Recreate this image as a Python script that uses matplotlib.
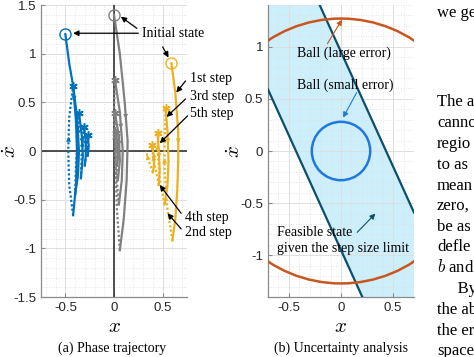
import numpy as np
import matplotlib.pyplot as plt
from matplotlib.patches import Circle
from matplotlib.ticker import MultipleLocator

plt.rcParams['mathtext.fontset'] = 'cm'
plt.rcParams['font.family'] = ['Liberation Sans', 'DejaVu Sans']
serif = ['Liberation Serif', 'DejaVu Serif']

# ---------- (a) phase trajectory: strokes per run, odd strokes solid (going down), even dotted (going up)
blue_x = [[-0.50, -0.46, -0.42, -0.39, -0.38, -0.39, -0.42],
          [-0.42, -0.46, -0.47, -0.46, -0.42],
          [-0.42, -0.38, -0.36, -0.37, -0.40],
          [-0.40, -0.39, -0.37, -0.36],
          [-0.36, -0.33, -0.32, -0.34],
          [-0.34, -0.33, -0.31],
          [-0.31, -0.29, -0.29, -0.30],
          [-0.30, -0.28, -0.27],
          [-0.27, -0.26, -0.27]]
blue_y = [[1.20, 0.90, 0.67, 0.30, 0.00, -0.35, -0.66],
          [-0.66, -0.35, 0.00, 0.35, 0.67],
          [0.67, 0.35, 0.00, -0.25, -0.45],
          [-0.45, -0.15, 0.15, 0.39],
          [0.39, 0.15, -0.05, -0.28],
          [-0.28, 0.00, 0.25],
          [0.25, 0.10, -0.05, -0.15],
          [-0.15, 0.02, 0.16],
          [0.16, 0.05, -0.05]]

gray_x = [[0.00, 0.06, 0.11, 0.14, 0.13, 0.10, 0.06],
          [0.06, 0.03, 0.01, 0.00, 0.01],
          [0.01, 0.06, 0.09, 0.08, 0.05],
          [0.05, 0.02, 0.01, 0.01],
          [0.01, 0.05, 0.06, 0.04],
          [0.04, 0.02, 0.02],
          [0.02, 0.04, 0.04, 0.03]]
gray_y = [[1.40, 1.00, 0.50, 0.10, -0.30, -0.70, -1.02],
          [-1.02, -0.60, 0.00, 0.40, 0.73],
          [0.73, 0.40, 0.00, -0.30, -0.55],
          [-0.55, -0.20, 0.15, 0.39],
          [0.39, 0.15, -0.10, -0.30],
          [-0.30, -0.05, 0.18],
          [0.18, 0.05, -0.08, -0.15]]

yellow_x = [[0.59, 0.63, 0.66, 0.66, 0.65, 0.63, 0.60],
            [0.60, 0.55, 0.52, 0.52, 0.53],
            [0.53, 0.55, 0.56, 0.55, 0.52],
            [0.52, 0.47, 0.45, 0.45],
            [0.45, 0.46, 0.47, 0.46],
            [0.46, 0.41, 0.39],
            [0.39, 0.41, 0.41, 0.40],
            [0.40, 0.35, 0.33]]
yellow_y = [[0.90, 0.60, 0.20, -0.10, -0.40, -0.70, -0.92],
            [-0.92, -0.60, -0.20, 0.10, 0.44],
            [0.44, 0.20, -0.10, -0.35, -0.55],
            [-0.55, -0.30, 0.00, 0.18],
            [0.18, 0.00, -0.20, -0.35],
            [-0.35, -0.10, 0.06],
            [0.06, -0.05, -0.15, -0.22],
            [-0.22, -0.08, 0.00]]

step_labels = ['1st step', '3rd step', '5th step', '4th step', '2nd step']
step_text_xy = [(0.78, 0.74), (0.78, 0.565), (0.78, 0.39), (0.73, -0.68), (0.73, -0.84)]
step_arrow_from = [(0.735, 0.72), (0.735, 0.535), (0.755, 0.36), (0.69, -0.64), (0.69, -0.80)]
step_arrow_to = [(0.64, 0.60), (0.54, 0.35), (0.47, 0.08), (0.47, -0.35), (0.55, -0.64)]

# ---------- (b) uncertainty analysis
r_small = 0.28
r_large = 1.27
band_slope = -2.2
band_c = [-0.95, 0.95]

# body text of the page, cut by the right edge
paper_lines = ['we ge', 'The a', 'canno', 'regio', 'to as', 'mean', 'zero,',
               'be as', 'defle', '$b$ and', '     By', 'the ab', 'the er', 'space']
paper_y = [13, 102, 123, 144, 165, 186, 206, 227, 247, 268, 289, 310, 331, 351]

c_blue = '#0072BD'
c_gray = '#808080'
c_yellow = '#EDB120'
c_orange = '#C8561E'
c_small = '#1F78E0'
c_band = '#0B4F6C'
c_fill = '#CDEFFB'

fig = plt.figure(figsize=(4.74, 3.57), dpi=100)
axa = fig.add_axes([41/474, 1-297/357, 146/474, 292/357])
axb = fig.add_axes([268/474, 1-297/357, 146/474, 292/357])


def style(ax):
    ax.xaxis.set_minor_locator(MultipleLocator(0.1))
    ax.yaxis.set_minor_locator(MultipleLocator(0.1))
    ax.grid(True, which='major', color='#dedede', lw=0.7)
    ax.grid(True, which='minor', color='#dedede', lw=0.6, ls=(0, (1, 2)))
    ax.set_axisbelow(True)
    for s in ['top', 'right']:
        ax.spines[s].set_visible(False)
    for s in ['left', 'bottom']:
        ax.spines[s].set_color('#8a8a8a')
        ax.spines[s].set_linewidth(0.9)
    ax.tick_params(which='both', direction='in', labelsize=9.5, colors='#8a8a8a',
                   labelcolor='#262626', length=3)
    ax.tick_params(which='minor', length=0)
    ax.set_xticks([-0.5, 0, 0.5])
    ax.set_xticklabels(['-0.5', '0', '0.5'])


style(axa)
axa.set_xlim(-0.75, 0.75)
axa.set_ylim(-1.5, 1.5)
axa.set_yticks([-1.5, -1, -0.5, 0, 0.5, 1, 1.5])
axa.set_yticklabels(['-1.5', '-1', '-0.5', '0', '0.5', '1', '1.5'])
axa.axhline(0, color='#333333', lw=1.2, zorder=1.5)
axa.axvline(0, color='#333333', lw=1.2, zorder=1.5)


def draw_run(ax, xs, ys, col):
    for k, (sx, sy) in enumerate(zip(xs, ys)):
        ls = '-' if k % 2 == 0 else (0, (1, 1))
        ax.plot(sx, sy, color=col, lw=1.6, ls=ls, zorder=3)
        i = len(sx) // 2 - 1 if k % 2 == 0 else len(sx) // 2
        p0 = (sx[i], sy[i])
        p1 = ((sx[i] + sx[i + 1]) / 2, (sy[i] + sy[i + 1]) / 2)
        ax.annotate('', xy=p1, xytext=p0, zorder=4,
                    arrowprops=dict(arrowstyle='-|>', color=col, lw=0, mutation_scale=9))
        if k % 2 == 0 and k > 0:
            ax.plot(sx[0], sy[0], marker=(6, 2, 0), ms=6, mew=1.1, color=col, zorder=4)
    ax.plot(xs[0][0], ys[0][0], 'o', ms=8, mfc='none', mec=col, mew=1.0, zorder=4)


draw_run(axa, gray_x, gray_y, c_gray)
draw_run(axa, blue_x, blue_y, c_blue)
draw_run(axa, yellow_x, yellow_y, c_yellow)

ann = dict(arrowstyle='-|>', color='black', lw=0.9, mutation_scale=8, shrinkA=0, shrinkB=0)
axa.text(0.29, 1.21, 'Initial state', family=serif, fontsize=10, va='center', ha='left')
axa.annotate('', xy=(-0.42, 1.21), xytext=(0.25, 1.21), arrowprops=ann)
axa.annotate('', xy=(0.07, 1.38), xytext=(0.235, 1.26), arrowprops=ann)
axa.annotate('', xy=(0.56, 0.96), xytext=(0.50, 1.07), arrowprops=ann)
for lab, txy, a0, a1 in zip(step_labels, step_text_xy, step_arrow_from, step_arrow_to):
    axa.text(txy[0], txy[1], lab, family=serif, fontsize=10, va='center', ha='left',
             clip_on=False)
    axa.annotate('', xy=a1, xytext=a0, arrowprops=ann, annotation_clip=False)

# ---------- (b)
style(axb)
axb.set_xlim(-0.7, 0.7)
axb.set_ylim(-1.4, 1.4)
axb.set_yticks([-1, -0.5, 0, 0.5, 1])
axb.set_yticklabels(['-1', '-0.5', '0', '0.5', '1'])
xl = np.array(axb.get_xlim())
axb.fill_between(xl, band_slope * xl + band_c[0], band_slope * xl + band_c[1],
                 color=c_fill, lw=0, zorder=0.5)
for c in band_c:
    axb.axline((0, c), slope=band_slope, color=c_band, lw=1.6, zorder=3)
axb.add_patch(Circle((0, 0), r_large, fill=False, ec=c_orange, lw=1.8, zorder=3))
axb.add_patch(Circle((0, 0), r_small, fill=False, ec=c_small, lw=1.8, zorder=3))

axb.text(-0.42, 0.94, 'Ball (large error)', family=serif, fontsize=10, va='center')
axb.annotate('', xy=(0.01, 1.26), xytext=(-0.13, 1.03),
             arrowprops=dict(ann, color=c_orange, lw=0.8))
axb.text(-0.42, 0.63, 'Ball (small error)', family=serif, fontsize=10, va='center')
axb.annotate('', xy=(0.02, 0.32), xytext=(0.15, 0.56),
             arrowprops=dict(ann, color=c_small, lw=0.8))
axb.text(-0.61, -0.86, 'Feasible state\ngiven the step size limit', family=serif,
         fontsize=10, va='center', linespacing=1.25)
axb.annotate('', xy=(0.33, -0.60), xytext=(0.155, -0.78),
             arrowprops=dict(ann, color=c_band, lw=0.8))

# labels and captions
for xp in [114, 340]:
    fig.text(xp / 474, 1 - 326 / 357, '$x$', fontsize=15, ha='center', va='center')
for xp in [10, 235]:
    fig.text(xp / 474, 1 - 151 / 357, r'$\dot{x}$', fontsize=15, ha='center', va='center',
             rotation=90)
fig.text(112 / 474, 1 - 348 / 357, '(a) Phase trajectory', family=serif, fontsize=10,
         ha='center', va='center')
fig.text(341 / 474, 1 - 348 / 357, '(b) Uncertainty analysis', family=serif, fontsize=10,
         ha='center', va='center')

for s, yp in zip(paper_lines, paper_y):
    fig.text(437 / 474, 1 - yp / 357, s, family=serif, fontsize=12, ha='left',
             va='center')

fig.savefig('out.png', dpi=100)
